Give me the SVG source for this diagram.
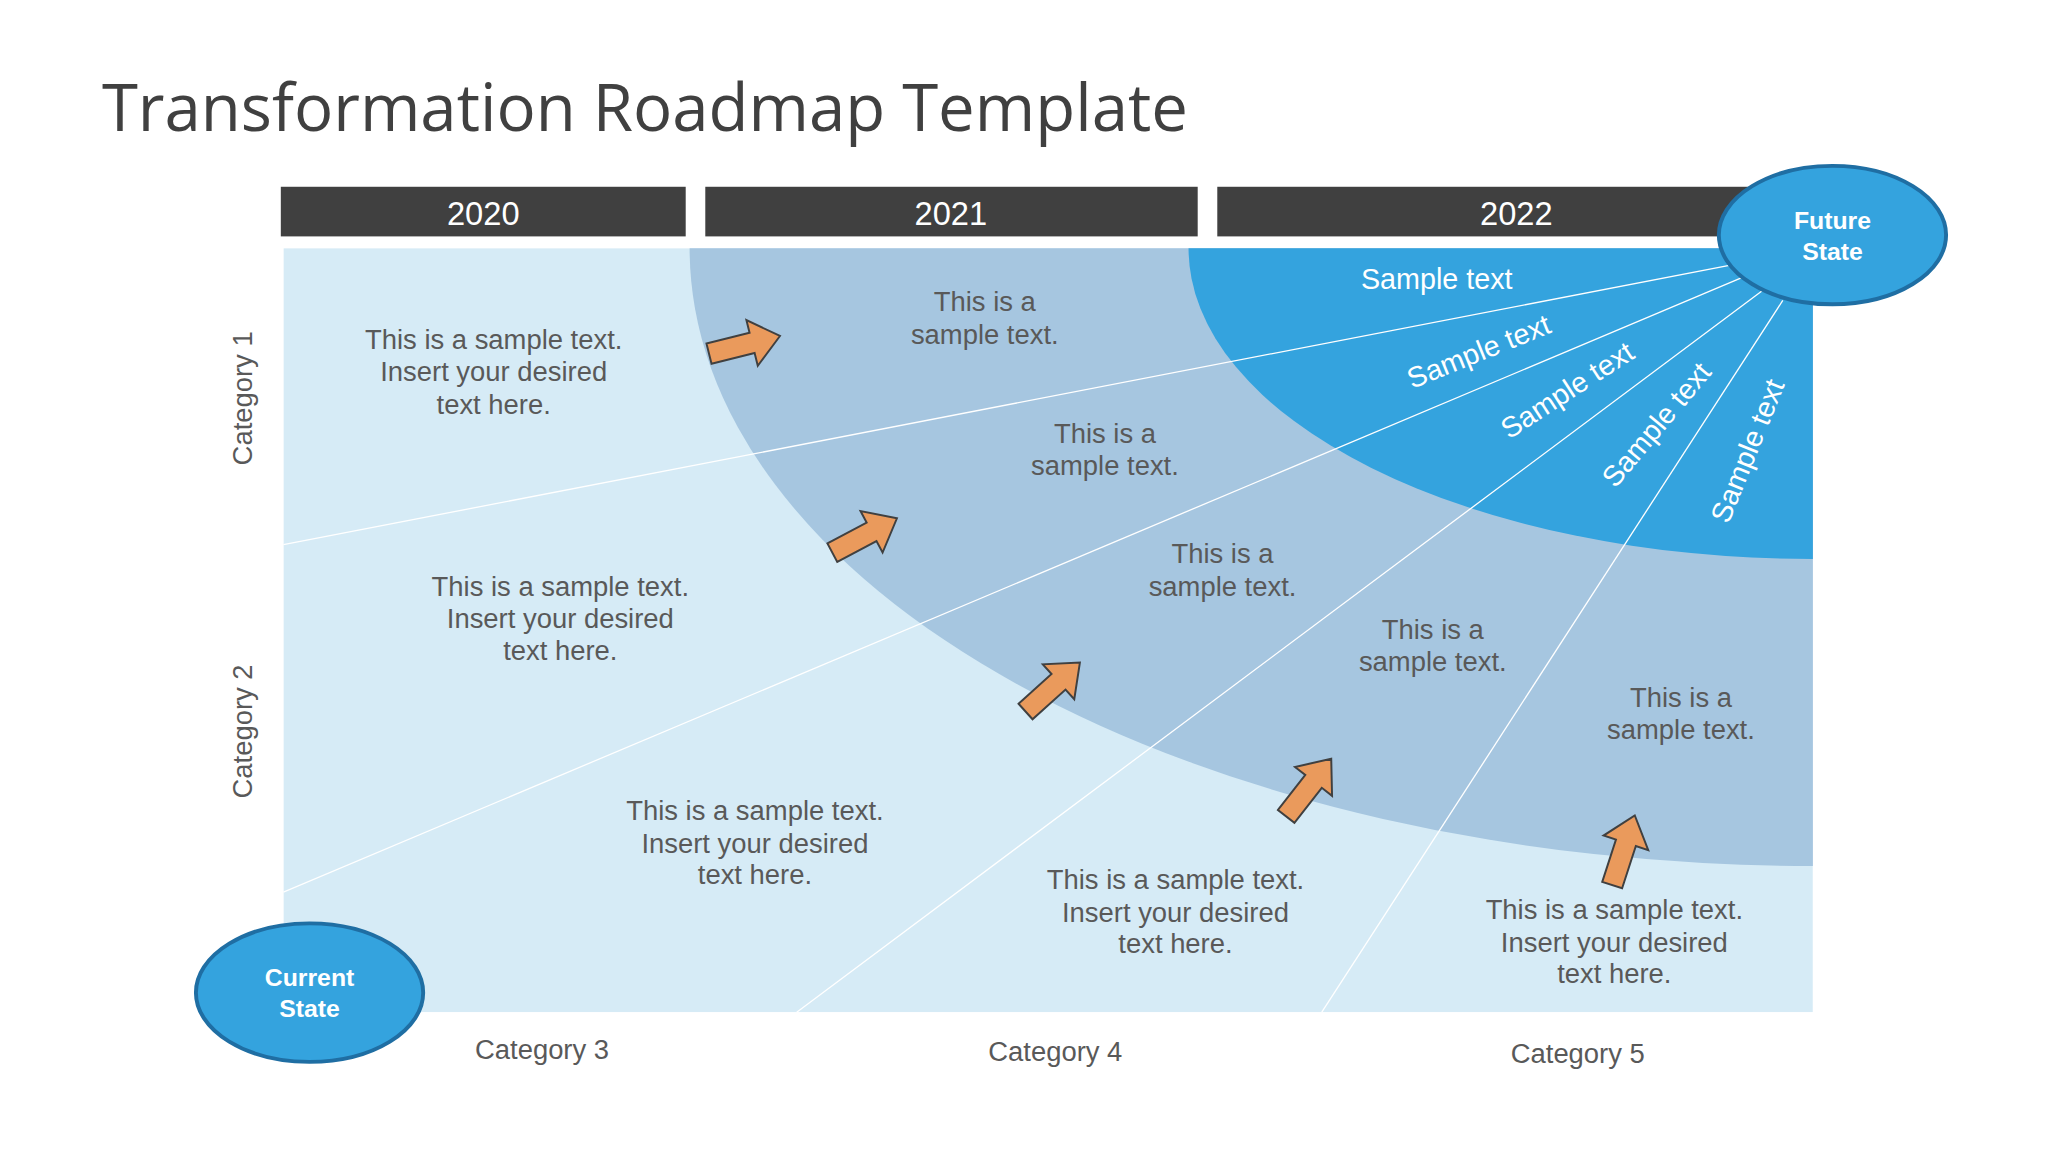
<svg xmlns="http://www.w3.org/2000/svg" width="2048" height="1152" viewBox="0 0 2048 1152">
<defs>
<style>
.t{font-family:"Liberation Sans",Arial,sans-serif;fill:#595959;font-size:21px;text-anchor:middle}
.w{font-family:"Liberation Sans",Arial,sans-serif;fill:#fff;font-size:22px;text-anchor:middle}
.y{font-family:"Liberation Sans",Arial,sans-serif;fill:#fff;font-size:25px;text-anchor:middle}
.b{font-family:"Liberation Sans",Arial,sans-serif;fill:#fff;font-size:19px;font-weight:bold;text-anchor:middle}
.bar{fill:#404040}
.ell{fill:#34a3de;stroke:#1f6ea3;stroke-width:3}
.arr{fill:#ea9a5c;stroke:#404040;stroke-width:1.5}
.ln{stroke:#fff;stroke-width:1;fill:none}
</style>
<polygon id="ar" class="arr" points="-28,-8 6,-8 6,-18 28,0 6,18 6,8 -28,8"/>
<clipPath id="cp"><rect x="217" y="190" width="1171" height="585"/></clipPath>
</defs>
<rect width="2048" height="1152" fill="#fff"/>
<g transform="scale(1.3061)">
<text x="78" y="100" style="font-family:'Open Sans','Liberation Sans',sans-serif;font-size:50px;fill:#404040">Transformation Roadmap Template</text>
<g id="years">
<rect class="bar" x="215" y="143" width="310" height="38"/><text class="y" x="370" y="172">2020</text>
<rect class="bar" x="540" y="143" width="377" height="38"/><text class="y" x="728" y="172">2021</text>
<rect class="bar" x="932" y="143" width="428" height="38"/><text class="y" x="1161" y="172">2022</text>
</g>
<g id="field" clip-path="url(#cp)">
<rect x="217" y="190" width="1171" height="585" fill="#d6ebf6"/>
<ellipse cx="1388" cy="190" rx="860" ry="473" fill="#a6c6e0"/>
<ellipse cx="1388" cy="190" rx="478" ry="238" fill="#34a3de"/>
</g>
<g id="connectors">
<line class="ln" x1="1325" y1="203" x2="217" y2="417"/>
<line class="ln" x1="1335" y1="212" x2="217" y2="683"/>
<line class="ln" x1="1350" y1="222" x2="610" y2="775"/>
<line class="ln" x1="1365" y1="230" x2="1012" y2="775"/>
</g>
<g id="ellipses">
<g id="future"><ellipse class="ell" cx="1403" cy="180" rx="87" ry="53"/><text class="b" x="1403" y="175">Future</text><text class="b" x="1403" y="199">State</text></g>
<g id="current"><ellipse class="ell" cx="237" cy="760" rx="87" ry="53"/><text class="b" x="237" y="755">Current</text><text class="b" x="237" y="779">State</text></g>
</g>
<g id="cats">
<text class="t" transform="translate(193,305) rotate(-90)">Category 1</text>
<text class="t" transform="translate(193,560) rotate(-90)">Category 2</text>
<text class="t" x="415" y="811">Category 3</text>
<text class="t" x="808" y="812">Category 4</text>
<text class="t" x="1208" y="814">Category 5</text>
</g>
<g id="dark">
<text class="w" x="1100" y="221">Sample text</text>
<text class="w" transform="translate(1135,276) rotate(-22)">Sample text</text>
<text class="w" transform="translate(1204,305) rotate(-33)">Sample text</text>
<text class="w" transform="translate(1274,330) rotate(-50)">Sample text</text>
<text class="w" transform="translate(1345,348) rotate(-68)">Sample text</text>
</g>
<g id="mid">
<text class="t" x="754" y="238">This is a</text><text class="t" x="754" y="263">sample text.</text>
<text class="t" x="846" y="339">This is a</text><text class="t" x="846" y="364">sample text.</text>
<text class="t" x="936" y="431">This is a</text><text class="t" x="936" y="456">sample text.</text>
<text class="t" x="1097" y="489">This is a</text><text class="t" x="1097" y="514">sample text.</text>
<text class="t" x="1287" y="541">This is a</text><text class="t" x="1287" y="566">sample text.</text>
</g>
<g id="light">
<text class="t" x="378" y="267">This is a sample text.</text><text class="t" x="378" y="292">Insert your desired</text><text class="t" x="378" y="317">text here.</text>
<text class="t" x="429" y="456">This is a sample text.</text><text class="t" x="429" y="481">Insert your desired</text><text class="t" x="429" y="505">text here.</text>
<text class="t" x="578" y="628">This is a sample text.</text><text class="t" x="578" y="653">Insert your desired</text><text class="t" x="578" y="677">text here.</text>
<text class="t" x="900" y="681">This is a sample text.</text><text class="t" x="900" y="706">Insert your desired</text><text class="t" x="900" y="730">text here.</text>
<text class="t" x="1236" y="704">This is a sample text.</text><text class="t" x="1236" y="729">Insert your desired</text><text class="t" x="1236" y="753">text here.</text>
</g>
<g id="arrows">
<use href="#ar" transform="translate(570,264) rotate(-14)"/>
<use href="#ar" transform="translate(662,410) rotate(-28)"/>
<use href="#ar" transform="translate(806,526) rotate(-42)"/>
<use href="#ar" transform="translate(1002,603) rotate(-52)"/>
<use href="#ar" transform="translate(1243,651) rotate(-72)"/>
</g>
</g>
</svg>
